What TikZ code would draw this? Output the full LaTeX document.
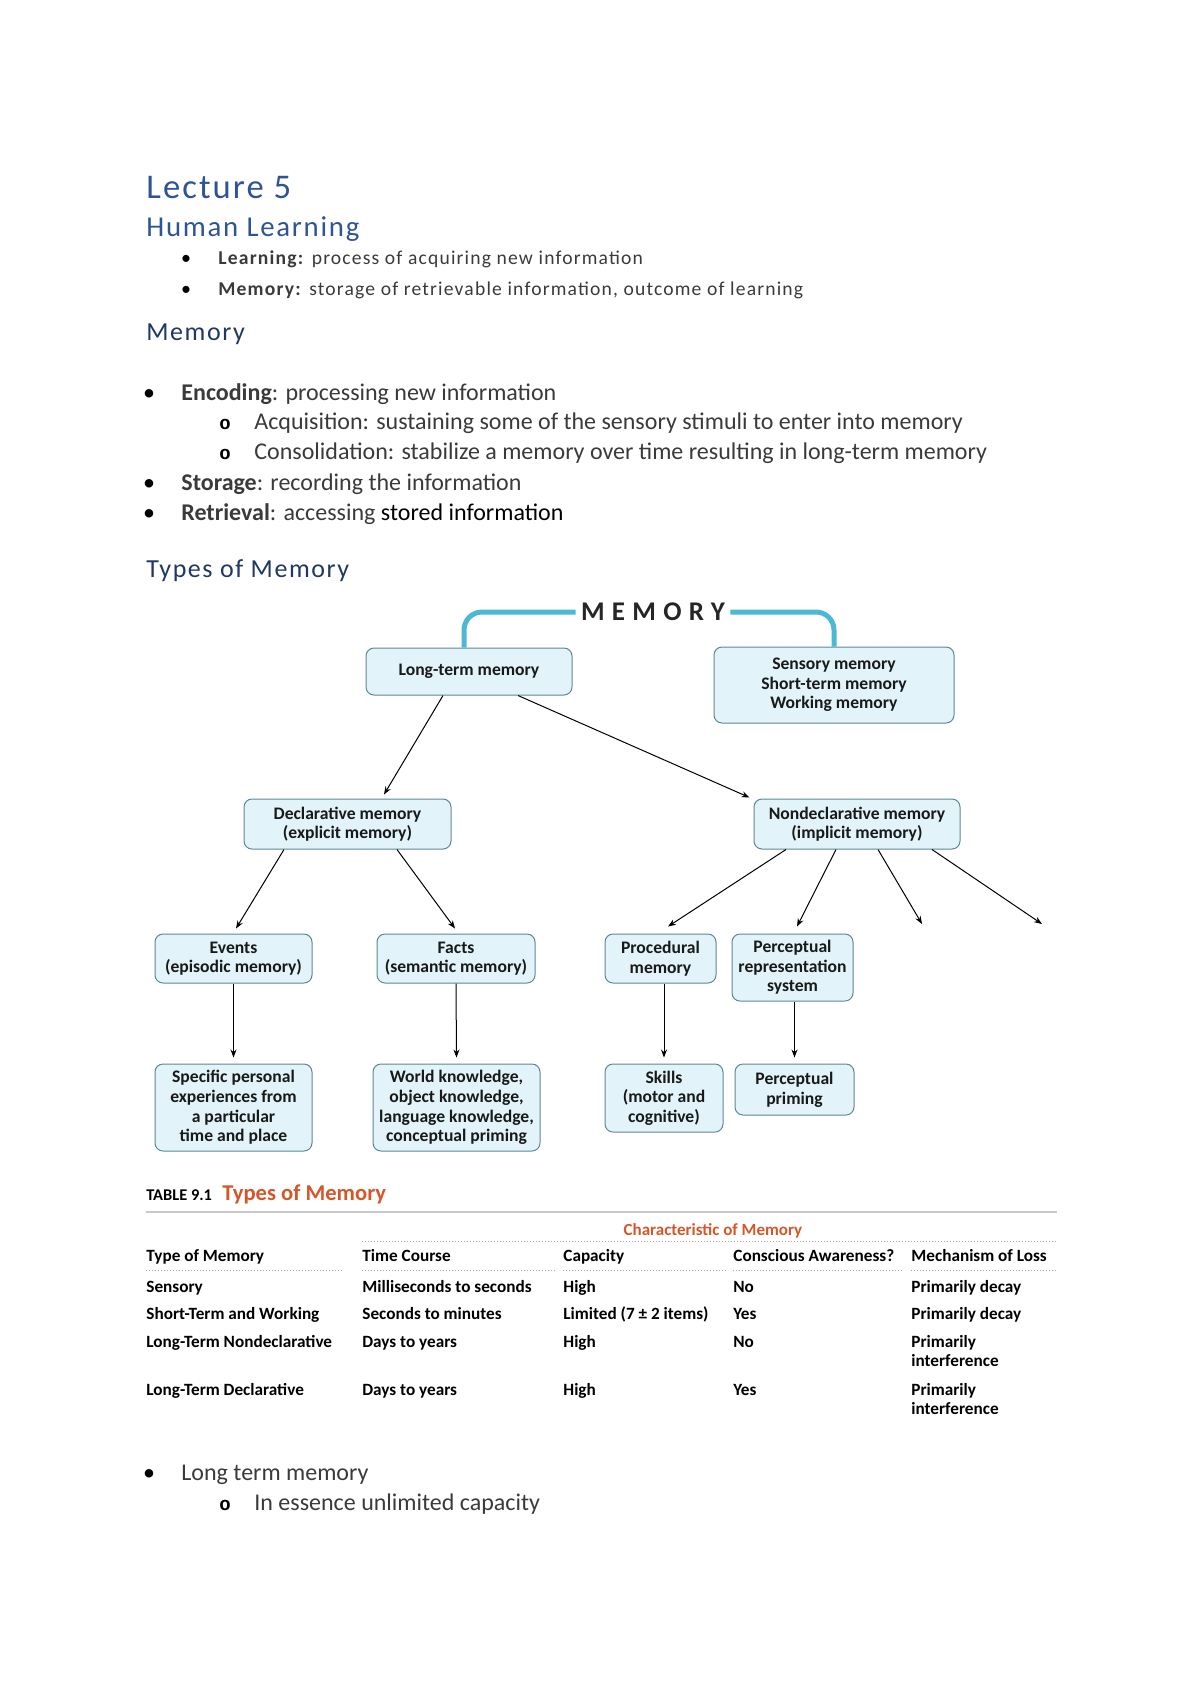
\documentclass[tikz,border=0pt]{standalone}
\usepackage{fontspec}
\setmainfont{Carlito}
\newfontfamily\headfont[LetterSpace=6]{Carlito}
\newfontfamily\spacedfont[LetterSpace=27]{Carlito}
\newfontfamily\monofont{Liberation Mono}
\usetikzlibrary{arrows.meta, positioning}
\definecolor{headblue}{HTML}{2F5496}
\definecolor{headnavy}{HTML}{1F3864}
\definecolor{bodygray}{HTML}{3A3A3A}
\definecolor{boxfill}{HTML}{E2F4F9}
\definecolor{boxline}{HTML}{5E8794}
\definecolor{bracketblue}{HTML}{4DB8D6}
\definecolor{tableorange}{HTML}{D4572A}
\definecolor{rulegray}{HTML}{C9C9C9}
\newcommand{\twocell}[2]{\begin{tabular}[t]{@{}l@{}}#1\\#2\end{tabular}}
\tikzstyle{box} = [rectangle, rounded corners=4pt,
draw=boxline, line width=0.5pt,
fill=boxfill,
align=center, inner sep=0pt,
font=\bfseries\fontsize{8.8}{9.8}\selectfont,
text=black!90]
\tikzstyle{arrow} = [-{Stealth[length=4pt, width=3pt]}, line width=0.5pt]
\tikzstyle{bracket} = [draw=bracketblue, line width=2.5pt, rounded corners=9pt]
\tikzstyle{txt} = [anchor=base west, inner sep=0pt]
\tikzstyle{dot} = [anchor=base, inner sep=0pt]
\tikzstyle{cell} = [anchor=base west, inner sep=0pt,
font=\bfseries\fontsize{8.6}{9.8}\selectfont, text=black]
\tikzstyle{dots} = [draw=gray!70, line width=0.5pt, dash pattern=on 0.5pt off 1pt]

\begin{document}
\begin{tikzpicture}[x=0.5pt, y=-0.5pt]
		\useasboundingbox (0,0) rectangle (1200,1698);
		
		% Headings and text
		\node[txt, font=\headfont\fontsize{17.3}{20}\selectfont, text=headblue] (lecture) at (146,198) {Lecture 5};
		\node[txt, font=\headfont\fontsize{14.4}{17}\selectfont, text=headblue] (human) at (146,236) {Human Learning};
		
		\node[dot, font=\fontsize{10}{12}\selectfont] (d1) at (186,264) {•};
		\node[txt, font=\headfont\fontsize{9.8}{12}\selectfont, text=bodygray] (learn) at (218,264) {\textbf{Learning:} process of acquiring new information};
		\node[dot, font=\fontsize{10}{12}\selectfont] (d2) at (186,295) {•};
		\node[txt, font=\headfont\fontsize{9.8}{12}\selectfont, text=bodygray] (mem) at (218,295) {\textbf{Memory:} storage of retrievable information, outcome of learning};
		
		\node[txt, font=\headfont\fontsize{13}{15}\selectfont, text=headnavy] (memhead) at (146,340) {Memory};
		
		\node[dot, font=\fontsize{12}{14}\selectfont] (d3) at (149,400) {•};
		\node[txt, font=\fontsize{12}{14}\selectfont, text=bodygray] (enc) at (181,400) {\textbf{Encoding}: processing new information};
		\node[dot, font=\monofont\bfseries\fontsize{9.5}{11}\selectfont] (o1) at (225,429) {o};
		\node[txt, font=\fontsize{12}{14}\selectfont, text=bodygray] (acq) at (254,429) {Acquisition: sustaining some of the sensory stimuli to enter into memory};
		\node[dot, font=\monofont\bfseries\fontsize{9.5}{11}\selectfont] (o2) at (225,459) {o};
		\node[txt, font=\fontsize{12}{14}\selectfont, text=bodygray] (cons) at (254,459) {Consolidation: stabilize a memory over time resulting in long-term memory};
		\node[dot, font=\fontsize{12}{14}\selectfont] (d4) at (149,490) {•};
		\node[txt, font=\fontsize{12}{14}\selectfont, text=bodygray] (stor) at (181,490) {\textbf{Storage}: recording the information};
		\node[dot, font=\fontsize{12}{14}\selectfont] (d5) at (149,520) {•};
		\node[txt, font=\fontsize{12}{14}\selectfont, text=bodygray] (retr) at (181,520) {\textbf{Retrieval}: accessing \textcolor{black}{stored information}};
		
		\node[txt, font=\headfont\fontsize{13}{15}\selectfont, text=headnavy] (typeshead) at (146,577) {Types of Memory};
		
		% Diagram
		\node[inner sep=2.5pt, font=\spacedfont\bfseries\fontsize{13.5}{15}\selectfont, text=black!85] (memtitle) at (653,612) {MEMORY};
		
		\node[box, minimum width=103pt, minimum height=23.5pt] (ltm) at (469,671.5) {Long-term memory};
		\node[box, minimum width=120pt, minimum height=38pt] (sens) at (834,685) {Sensory memory\\Short-term memory\\Working memory};
		
		\node[box, minimum width=103.5pt, minimum height=25pt] (decl) at (347.5,824) {Declarative memory\\(explicit memory)};
		\node[box, minimum width=103pt, minimum height=25pt] (nondecl) at (857,824) {Nondeclarative memory\\(implicit memory)};
		
		\node[box, minimum width=78.5pt, minimum height=24.5pt] (events) at (233.5,958.5) {Events\\(episodic memory)};
		\node[box, minimum width=79pt, minimum height=24.5pt] (facts) at (456,958.5) {Facts\\(semantic memory)};
		\node[box, minimum width=55.5pt, minimum height=24.5pt] (proc) at (660.5,958.5) {Procedural\\memory};
		\node[box, minimum width=60.5pt, minimum height=33.5pt] (perc) at (792.5,967.5) {Perceptual\\representation\\system};
		
		\node[box, minimum width=78.5pt, minimum height=43.5pt] (specific) at (233.5,1107.5) {Specific personal\\experiences from\\a particular\\time and place};
		\node[box, minimum width=83.5pt, minimum height=43.5pt] (world) at (456.5,1107.5) {World knowledge,\\object knowledge,\\language knowledge,\\conceptual priming};
		\node[box, minimum width=59pt, minimum height=34pt] (skills) at (664,1098) {Skills\\(motor and\\cognitive)};
		\node[box, minimum width=59.5pt, minimum height=25.5pt] (priming) at (794.5,1089.5) {Perceptual\\priming};
		
		\coordinate (free1) at (922,924);
		\coordinate (free2) at (1042,924);
		
		\draw[bracket] ([xshift=-2.5pt]ltm.north) |- (memtitle.west);
		\draw[bracket] (memtitle.east) -| (sens.north);
		
		\draw[arrow] ([xshift=-13pt]ltm.south) -- ([xshift=18.25pt, yshift=2pt]decl.north);
		\draw[arrow] ([xshift=24.5pt]ltm.south) -- ([xshift=-2pt, yshift=0.5pt]nondecl.north west);
		
		\draw[arrow] ([xshift=-31.75pt]decl.south) -- ([xshift=1.25pt, yshift=2.5pt]events.north);
		\draw[arrow] ([xshift=24.75pt]decl.south) -- ([xshift=-0.5pt, yshift=2.5pt]facts.north);
		
		\draw[arrow] ([xshift=-35.5pt]nondecl.south) -- ([xshift=3.75pt, yshift=3.5pt]proc.north);
		\draw[arrow] ([xshift=-10.5pt]nondecl.south) -- ([xshift=2.25pt, yshift=3.5pt]perc.north);
		\draw[arrow] ([xshift=10.5pt]nondecl.south) -- (free1);
		\draw[arrow] ([xshift=37.5pt]nondecl.south) -- (free2);
		
		\draw[arrow] (events.south) -- ([yshift=3pt]specific.north);
		\draw[arrow] (facts.south) -- ([yshift=3pt]world.north);
		\draw[arrow] (skills.north |- proc.south) -- ([yshift=3pt]skills.north);
		\draw[arrow] (priming.north |- perc.south) -- ([yshift=3pt]priming.north);
		
		% Table
		\node[txt, font=\bfseries\fontsize{8.2}{9}\selectfont, text=black] (tabno) at (146,1200) {TABLE 9.1};
		\node[txt, font=\bfseries\fontsize{11.3}{13}\selectfont, text=tableorange] (tabtitle) at (222,1200) {Types of Memory};
		\draw[rulegray, line width=1.2pt] (146,1212) -- (1057,1212);
		
		\node[cell, anchor=base, text=tableorange, font=\bfseries\fontsize{8.5}{10}\selectfont] (charhead) at (713,1235) {Characteristic of Memory};
		\draw[dots] (362,1241) -- (1057,1241);
		
		\node[cell] (h1) at (146,1261) {Type of Memory};
		\node[cell] (h2) at (362,1261) {Time Course};
		\node[cell] (h3) at (563,1261) {Capacity};
		\node[cell] (h4) at (733,1261) {Conscious Awareness?};
		\node[cell] (h5) at (911,1261) {Mechanism of Loss};
		\foreach \a/\b in {146/344, 362/555, 563/726, 733/902, 911/1057}
			\draw[dots] (\a,1270) -- (\b,1270);
		
		\foreach \y/\ty/\tc/\cp/\ca/\ml in {
			1292/{Sensory}/{Milliseconds to seconds}/{High}/{No}/{Primarily decay},
			1319/{Short-Term and Working}/{Seconds to minutes}/{Limited (7 ± 2 items)}/{Yes}/{Primarily decay},
			1347/{Long-Term Nondeclarative}/{Days to years}/{High}/{No}/{\twocell{Primarily}{interference}},
			1395/{Long-Term Declarative}/{Days to years}/{High}/{Yes}/{\twocell{Primarily}{interference}}}
		{
			\node[cell] (ty\y) at (146,\y) {\ty};
			\node[cell] (tc\y) at (362,\y) {\tc};
			\node[cell] (cp\y) at (563,\y) {\cp};
			\node[cell] (ca\y) at (733,\y) {\ca};
			\node[cell] (ml\y) at (911,\y) {\ml};
		}
		
		% Bottom bullets
		\node[dot, font=\fontsize{12}{14}\selectfont] (d6) at (149,1480) {•};
		\node[txt, font=\fontsize{12}{14}\selectfont, text=bodygray] (ltmtext) at (181,1480) {Long term memory};
		\node[dot, font=\monofont\bfseries\fontsize{9.5}{11}\selectfont] (o3) at (225,1510) {o};
		\node[txt, font=\fontsize{12}{14}\selectfont, text=bodygray] (unlim) at (254,1510) {In essence unlimited capacity};
		
	\end{tikzpicture}
\end{document}
